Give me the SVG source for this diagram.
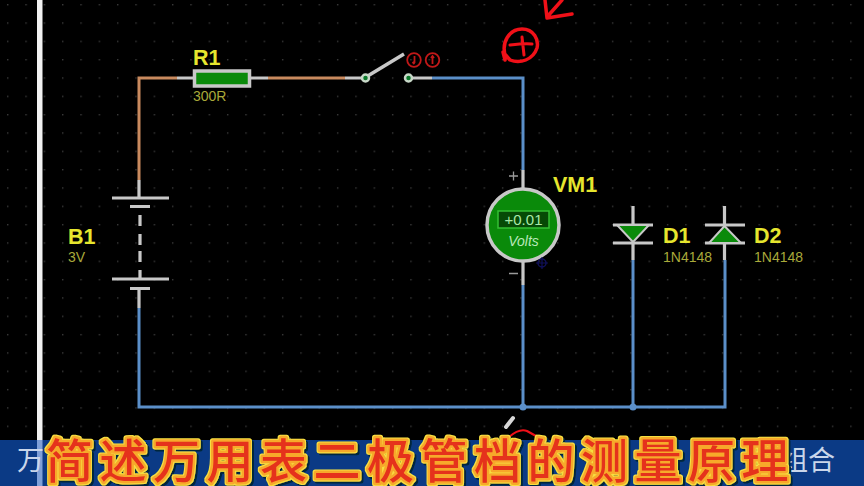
<svg xmlns="http://www.w3.org/2000/svg" width="864" height="486" viewBox="0 0 864 486">
<style>
.g{stroke:#c8c8c8;stroke-width:3.2;fill:none}
.or{stroke:#c98a5e;stroke-width:3;fill:none}
.bl{stroke:#5b8fc9;stroke-width:3;fill:none}
.red{stroke:#f01018;fill:none;stroke-linecap:round;stroke-linejoin:round}
.n{font:bold 21.500px "Liberation Sans",sans-serif;fill:#e6e62e}
.v{font:14px "Liberation Sans",sans-serif;fill:#a9a93a}
.t{font:500 47px "Noto Sans CJK SC",sans-serif;letter-spacing:6.500px}
.sub{font:27px "Noto Sans CJK SC",sans-serif;fill:#c9d6ea}
</style>
<defs>
<pattern id="dots" width="18.33" height="18.33" patternUnits="userSpaceOnUse" x="7" y="4">
<rect width="1.4" height="1.4" fill="#3a3a3a"/>
</pattern>
<filter id="sh" x="-5%" y="-20%" width="110%" height="140%">
<feMorphology in="SourceAlpha" operator="dilate" radius="1" result="d"/>
<feFlood flood-color="#f6e040"/>
<feComposite in2="d" operator="in" result="edge"/>
<feOffset in="d" dx="2" dy="2" result="o"/>
<feFlood flood-color="#06283c"/>
<feComposite in2="o" operator="in" result="shadow"/>
<feMerge>
<feMergeNode in="shadow"/>
<feMergeNode in="edge"/>
<feMergeNode in="SourceGraphic"/>
</feMerge>
</filter>
</defs>
<rect width="864" height="486" fill="#000"/>
<rect width="864" height="486" fill="url(#dots)"/>
<rect x="37" y="0" width="5.5" height="440" fill="#f2f2f2"/>
<g id="connectors">
<path class="or" d="M139 180V78H177"/>
<path class="or" d="M268 78H345"/>
<path class="bl" d="M432 78H523V170"/>
<path class="bl" d="M523 285V407"/>
<path class="bl" d="M139 308V407H725V260"/>
<path class="bl" d="M633 260V407"/>
<circle cx="523" cy="407" r="3.5" fill="#5b8fc9"/>
<circle cx="633" cy="407" r="3.5" fill="#5b8fc9"/>
</g>
<g id="R1">
<path class="g" d="M177 78H193M251 78H268"/>
<rect x="194.500" y="71" width="55" height="15" fill="#0a8a0a" stroke="#c8c8c8" stroke-width="3.500"/>
<text class="n" x="193" y="65">R1</text>
<text class="v" x="193" y="101">300R</text>
</g>
<g id="B1">
<path class="g" d="M139 180V197M112 198H169M130 206.500H150M140 215V226M140 234V245M140 251V262M140 270V279M112 279H169M130 288.500H150M139 289V308"/>
<text class="n" x="68" y="244">B1</text>
<text class="v" x="68" y="262">3V</text>
</g>
<g id="SW1">
<path class="g" d="M345 78H365M408 78H432"/>
<path d="M366 77L404 54" stroke="#c8c8c8" stroke-width="3.500" fill="none"/>
<circle cx="365.500" cy="78" r="3.500" fill="#0a7a2a" stroke="#c8d8c8" stroke-width="2.500"/>
<circle cx="408.500" cy="78" r="3.500" fill="#0a7a2a" stroke="#c8d8c8" stroke-width="2.500"/>
<g stroke="#c01818" stroke-width="1.800" fill="none">
<circle cx="414" cy="60" r="6.800"/>
<circle cx="432.500" cy="60" r="6.800"/>
<path d="M414.500 56V63M412.500 62L414.500 64M432.500 64V57M431 58L432.500 56L434 58"/>
</g>
</g>
<g id="VM1">
<path class="g" d="M523 170V190M523 262V285"/>
<circle cx="523" cy="225" r="36" fill="#0a8a0a" stroke="#c8c8c8" stroke-width="3.500"/>
<rect x="498" y="211" width="51" height="17" fill="#064a06" stroke="#35c035" stroke-width="1.500"/>
<text x="523.500" y="224.500" text-anchor="middle" style="font:15px 'Liberation Sans',sans-serif;fill:#a8e8a8">+0.01</text>
<text x="523.500" y="246" text-anchor="middle" style="font:italic 14px 'Liberation Sans',sans-serif;fill:#b8e8b8">Volts</text>
<path d="M509 176H518M513.500 171.500V180.500M509 273.500H518" stroke="#9a9a9a" stroke-width="1.300" fill="none"/>
<text class="n" x="553" y="192">VM1</text>
</g>
<g id="D1">
<path class="g" d="M633 206V225M613 225H653M613 243H653M633 243V260"/>
<path d="M617 225H649L633 242Z" fill="#0a8a0a" stroke="#c8c8c8" stroke-width="2"/>
<text class="n" x="663" y="243">D1</text>
<text class="v" x="663" y="262">1N4148</text>
</g>
<g id="D2">
<path class="g" d="M724.500 206V225M705 225H745M705 243H745M724.500 243V260"/>
<path d="M709 243H741L724.500 226Z" fill="#0a8a0a" stroke="#c8c8c8" stroke-width="2"/>
<text class="n" x="754" y="243">D2</text>
<text class="v" x="754" y="262">1N4148</text>
</g>
<g id="annotations">
<path class="red" stroke-width="3.500" d="M506 58C500 42 510 29 522 29C534 29 539 40 537 48C533 60 520 64 510 60L503 52L505 60"/>
<path class="red" stroke-width="3" d="M510 45C518 44 526 43 532 44M522 37L524 55"/>
<path class="red" stroke-width="3.500" d="M545 0L547 18L572 14M547 17L562 0"/>
<path class="red" stroke-width="2.200" d="M509 437C516 431 522 429 527 431L536 436"/>
<path d="M506 427L513 418" stroke="#d8d8d8" stroke-width="4" stroke-linecap="round"/>
<circle cx="542" cy="263" r="4" fill="none" stroke="#10105a" stroke-width="1.500"/>
<path d="M536 263H548M542 257V269" stroke="#10105a" stroke-width="1.200"/>
</g>
<g id="caption">
<rect x="0" y="440" width="864" height="46" fill="#0b3a85"/>
<rect x="37" y="440" width="5.500" height="46" fill="#7fa0d8"/>
<text class="sub" x="17" y="470">万</text>
<text class="sub" x="781" y="470">组合</text>
<text class="t" x="46" y="478" fill="#e5301a" stroke="#f7a92c" stroke-width="5" stroke-linejoin="round" paint-order="stroke" filter="url(#sh)">简述万用表二极管档的测量原理</text>
</g>
</svg>
